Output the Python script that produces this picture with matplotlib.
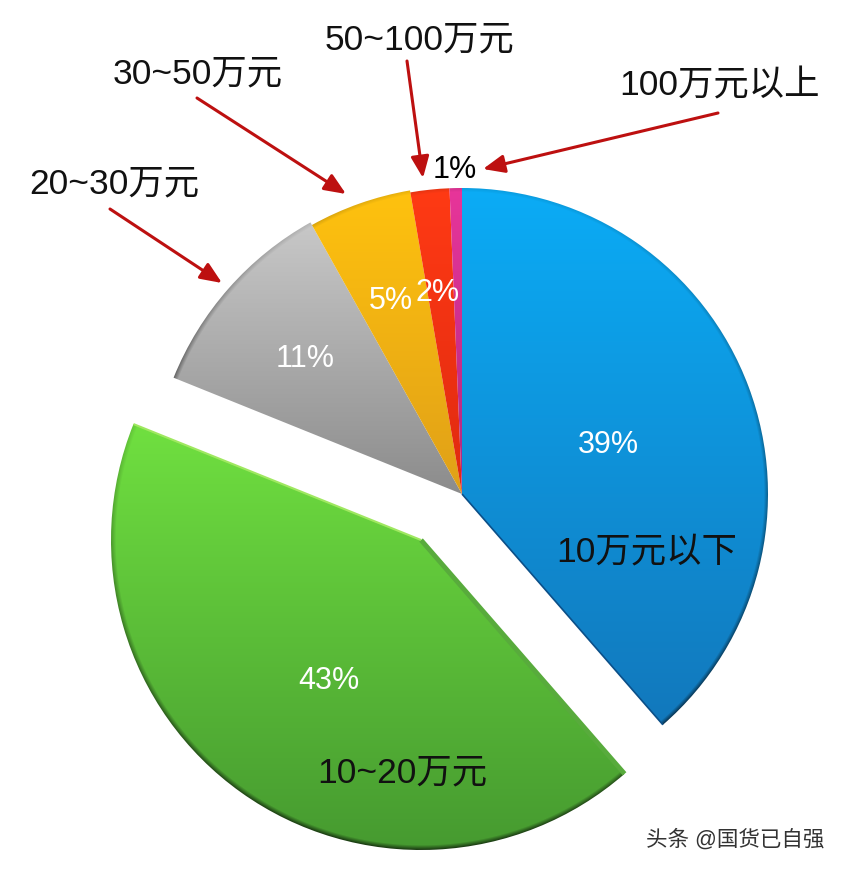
import numpy as np
import matplotlib
matplotlib.use('Agg')
import matplotlib.pyplot as plt
from matplotlib.colors import to_rgb

plt.rcParams['font.family'] = ['Liberation Sans', 'Noto Sans CJK SC', 'DejaVu Sans']

# data, slice sizes measured from the angles in the picture
labels = ['10万元以下', '10~20万元', '20~30万元', '30~50万元', '50~100万元', '100万元以上']
values = [38.6, 42.5, 10.8, 5.4, 2.05, 0.65]
pct_labels = ['39%', '43%', '11%', '5%', '2%', '1%']
explode = [0, 58, 0, 0, 0, 0]

# top colour, bottom colour of each slice
top_colors = ['#0bacf6', '#70e040', '#c8c8c8', '#ffc20e', '#ff3a14', '#e8359a']
low_colors = ['#1278bc', '#469a30', '#8c8c8c', '#e0a018', '#e02a10', '#b02a80']
radii = [306, 310, 311, 308, 306, 306]

W, H = 842, 870
cx, cy = 462, H - 495
R = 306

fig = plt.figure(figsize=(W / 100, H / 100), dpi=100)
ax = fig.add_axes([0, 0, 1, 1])

wedges, _ = ax.pie(values, startangle=90, counterclock=False, explode=explode,
                   center=(cx, cy), radius=R, frame=True)
ax.set_xlim(0, W)
ax.set_ylim(0, H)
ax.set_aspect('equal')
ax.axis('off')

# the green slice sits a little further left than a pure explode
wedges[1].set_center((cx - 41, cy - 46))
for w, r in zip(wedges, radii):
    w.set_radius(r)

# shading: vertical gradient over each slice, darker at the lower rim
yy, xx = np.mgrid[0:H, 0:W]
for w, c1, c2 in zip(wedges, top_colors, low_colors):
    c1 = np.array(to_rgb(c1))
    c2 = np.array(to_rgb(c2))
    wx, wy = w.center
    box = w.get_path().get_extents()
    t = np.clip((box.y1 - yy) / (box.y1 - box.y0), 0, 1)[..., None]
    img = c1 * (1 - t) + c2 * t
    d = np.hypot(xx - wx, yy - wy) / w.r
    rim = np.clip((d - 0.985) / 0.015, 0, 1)[..., None]
    img = img * (1 - (0.1 + 0.5 * t) * rim)
    w.set_facecolor('none')
    w.set_edgecolor('none')
    im = ax.imshow(img, origin='lower', extent=(0, W, 0, H), zorder=1,
                   interpolation='bilinear', aspect='auto')
    im.set_clip_path(w)


def edge(w, angle, color, lw):
    a = np.deg2rad(angle)
    ax.plot([w.center[0], w.center[0] + w.r * np.cos(a)],
            [w.center[1], w.center[1] + w.r * np.sin(a)],
            color=color, lw=lw, zorder=2, solid_capstyle='butt')


# bevels along the straight edges
g = wedges[1]
edge(g, max(g.theta1, g.theta2) % 360, '#58ab3c', 3.5)
edge(g, min(g.theta1, g.theta2) % 360, '#9fe860', 1.5)
b = wedges[0]
edge(b, min(b.theta1, b.theta2) % 360, '#0b4f88', 1.2)

# percent labels
pct_pos = [(608, 445), (329, 681), (305, 359), (391, 301), (438, 293), (455, 170)]
pct_cols = ['white', 'white', 'white', 'white', 'white', 'black']
for s, p, c in zip(pct_labels, pct_pos, pct_cols):
    ax.text(p[0], H - p[1], s, color=c, fontsize=22, ha='center', va='center', zorder=3)

# category labels
label_pos = [(647, 552), (402, 773), (114, 184), (198, 74), (419, 40), (720, 86)]
for s, p in zip(labels, label_pos):
    ax.text(p[0], H - p[1], s, color='#111111', fontsize=25.5, ha='center', va='center', zorder=3)

# arrows
arrows = [((110, 210), (222, 284)), ((197, 99), (346, 195)),
          ((407, 62), (423, 179)), ((718, 114), (483, 170))]
for a, b in arrows:
    ax.annotate('', xy=(b[0], H - b[1]), xytext=(a[0], H - a[1]), zorder=4,
                arrowprops=dict(arrowstyle='-|>,head_width=0.55,head_length=1.3',
                                color='#bd1010', lw=2.2, shrinkA=0, shrinkB=0))

ax.text(735, H - 840, '头条 @国货已自强', color='#333333', fontsize=15.5,
        ha='center', va='center', zorder=3)

fig.savefig('out.png', dpi=100)
